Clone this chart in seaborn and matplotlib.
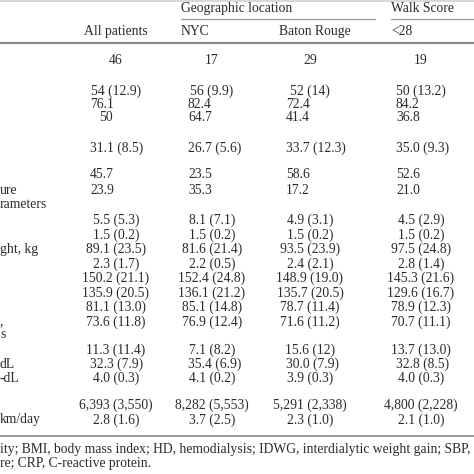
import matplotlib.pyplot as plt
import seaborn as sns

sns.set_theme(style="white")
plt.rcParams["font.family"] = ["Liberation Serif", "DejaVu Serif"]

# table content (left part of the table is cut off in the reference)
col_headers = ["All patients", "NYC", "Baton Rouge", "<28"]
row_labels = ["", "", "", "", "", "", "ure", "rameters", "", "", "ght, kg", "", "", "",
              "", ",", "s", "", "dL", "-dL", "", "km/day"]
all_pat = ["46", "54 (12.9)", "76.1", "50", "31.1 (8.5)", "45.7", "23.9", "", "5.5 (5.3)",
           "1.5 (0.2)", "89.1 (23.5)", "2.3 (1.7)", "150.2 (21.1)", "135.9 (20.5)", "81.1 (13.0)",
           "73.6 (11.8)", "", "11.3 (11.4)", "32.3 (7.9)", "4.0 (0.3)", "6,393 (3,550)", "2.8 (1.6)"]
nyc = ["17", "56 (9.9)", "82.4", "64.7", "26.7 (5.6)", "23.5", "35.3", "", "8.1 (7.1)",
       "1.5 (0.2)", "81.6 (21.4)", "2.2 (0.5)", "152.4 (24.8)", "136.1 (21.2)", "85.1 (14.8)",
       "76.9 (12.4)", "", "7.1 (8.2)", "35.4 (6.9)", "4.1 (0.2)", "8,282 (5,553)", "3.7 (2.5)"]
baton = ["29", "52 (14)", "72.4", "41.4", "33.7 (12.3)", "58.6", "17.2", "", "4.9 (3.1)",
         "1.5 (0.2)", "93.5 (23.9)", "2.4 (2.1)", "148.9 (19.0)", "135.7 (20.5)", "78.7 (11.4)",
         "71.6 (11.2)", "", "15.6 (12)", "30.0 (7.9)", "3.9 (0.3)", "5,291 (2,338)", "2.3 (1.0)"]
walk = ["19", "50 (13.2)", "84.2", "36.8", "35.0 (9.3)", "52.6", "21.0", "", "4.5 (2.9)",
        "1.5 (0.2)", "97.5 (24.8)", "2.8 (1.4)", "145.3 (21.6)", "129.6 (16.7)", "78.9 (12.3)",
        "70.7 (11.1)", "", "13.7 (13.0)", "32.8 (8.5)", "4.0 (0.3)", "4,800 (2,228)", "2.1 (1.0)"]
row_y = [60, 91, 104, 117, 148, 175, 190, 205, 220, 235, 249, 264, 278, 293, 307,
         322, 334, 350, 364, 378, 405, 420]
left_rows = {2, 3, 4, 5, 6, 18}
footnotes = ["ity; BMI, body mass index; HD, hemodialysis; IDWG, interdialytic weight gain; SBP, systolic",
             "re; CRP, C-reactive protein."]

W = H = 474
fig = plt.figure(figsize=(4.74, 4.74), dpi=100)
ax = fig.add_axes([0, 0, 1, 1])
ax.set_xlim(0, W)
ax.set_ylim(H, 0)
ax.axis("off")
fs = 9.8
tc = "#2b2b2b"

ax.axhspan(0, 2, color="#d8d8d8", lw=0)
ax.text(181, 8, "Geographic location", fontsize=fs, color=tc, va="center")
ax.text(391, 8, "Walk Score", fontsize=fs, color=tc, va="center")
ax.plot([181, 375], [19, 19], color="#999999", lw=0.9)
ax.plot([391, 474], [19, 19], color="#999999", lw=0.9)
ax.text(84, 31, col_headers[0], fontsize=fs, color=tc, va="center")
ax.text(181, 31, col_headers[1], fontsize=fs, color=tc, va="center")
ax.text(279, 31, col_headers[2], fontsize=fs, color=tc, va="center")
ax.text(391, 31, col_headers[3], fontsize=fs, color=tc, va="center")
ax.plot([0, 474], [43, 43], color="#8a8a8a", lw=1.6)

lefts = [90, 188, 286, 396]
centers = [116, 212, 310, 421]
for i, y in enumerate(row_y):
    if row_labels[i]:
        ax.text(0, y, row_labels[i], fontsize=fs, color=tc, va="center")
    for j, col in enumerate([all_pat, nyc, baton, walk]):
        if not col[i]:
            continue
        if i in left_rows and not (i == 3 and j == 0):
            ax.text(lefts[j], y, col[i], fontsize=fs, color=tc, va="center", ha="left")
        elif i == 3 and j == 0:
            ax.text(106, y, col[i], fontsize=fs, color=tc, va="center", ha="center")
        else:
            ax.text(centers[j], y, col[i], fontsize=fs, color=tc, va="center", ha="center")

ax.plot([0, 474], [436, 436], color="#8a8a8a", lw=1.2)
ax.text(0, 449, footnotes[0], fontsize=fs, color=tc, va="center")
ax.text(0, 464, footnotes[1], fontsize=fs, color=tc, va="center")

fig.savefig("out.png", dpi=100, facecolor="white")
